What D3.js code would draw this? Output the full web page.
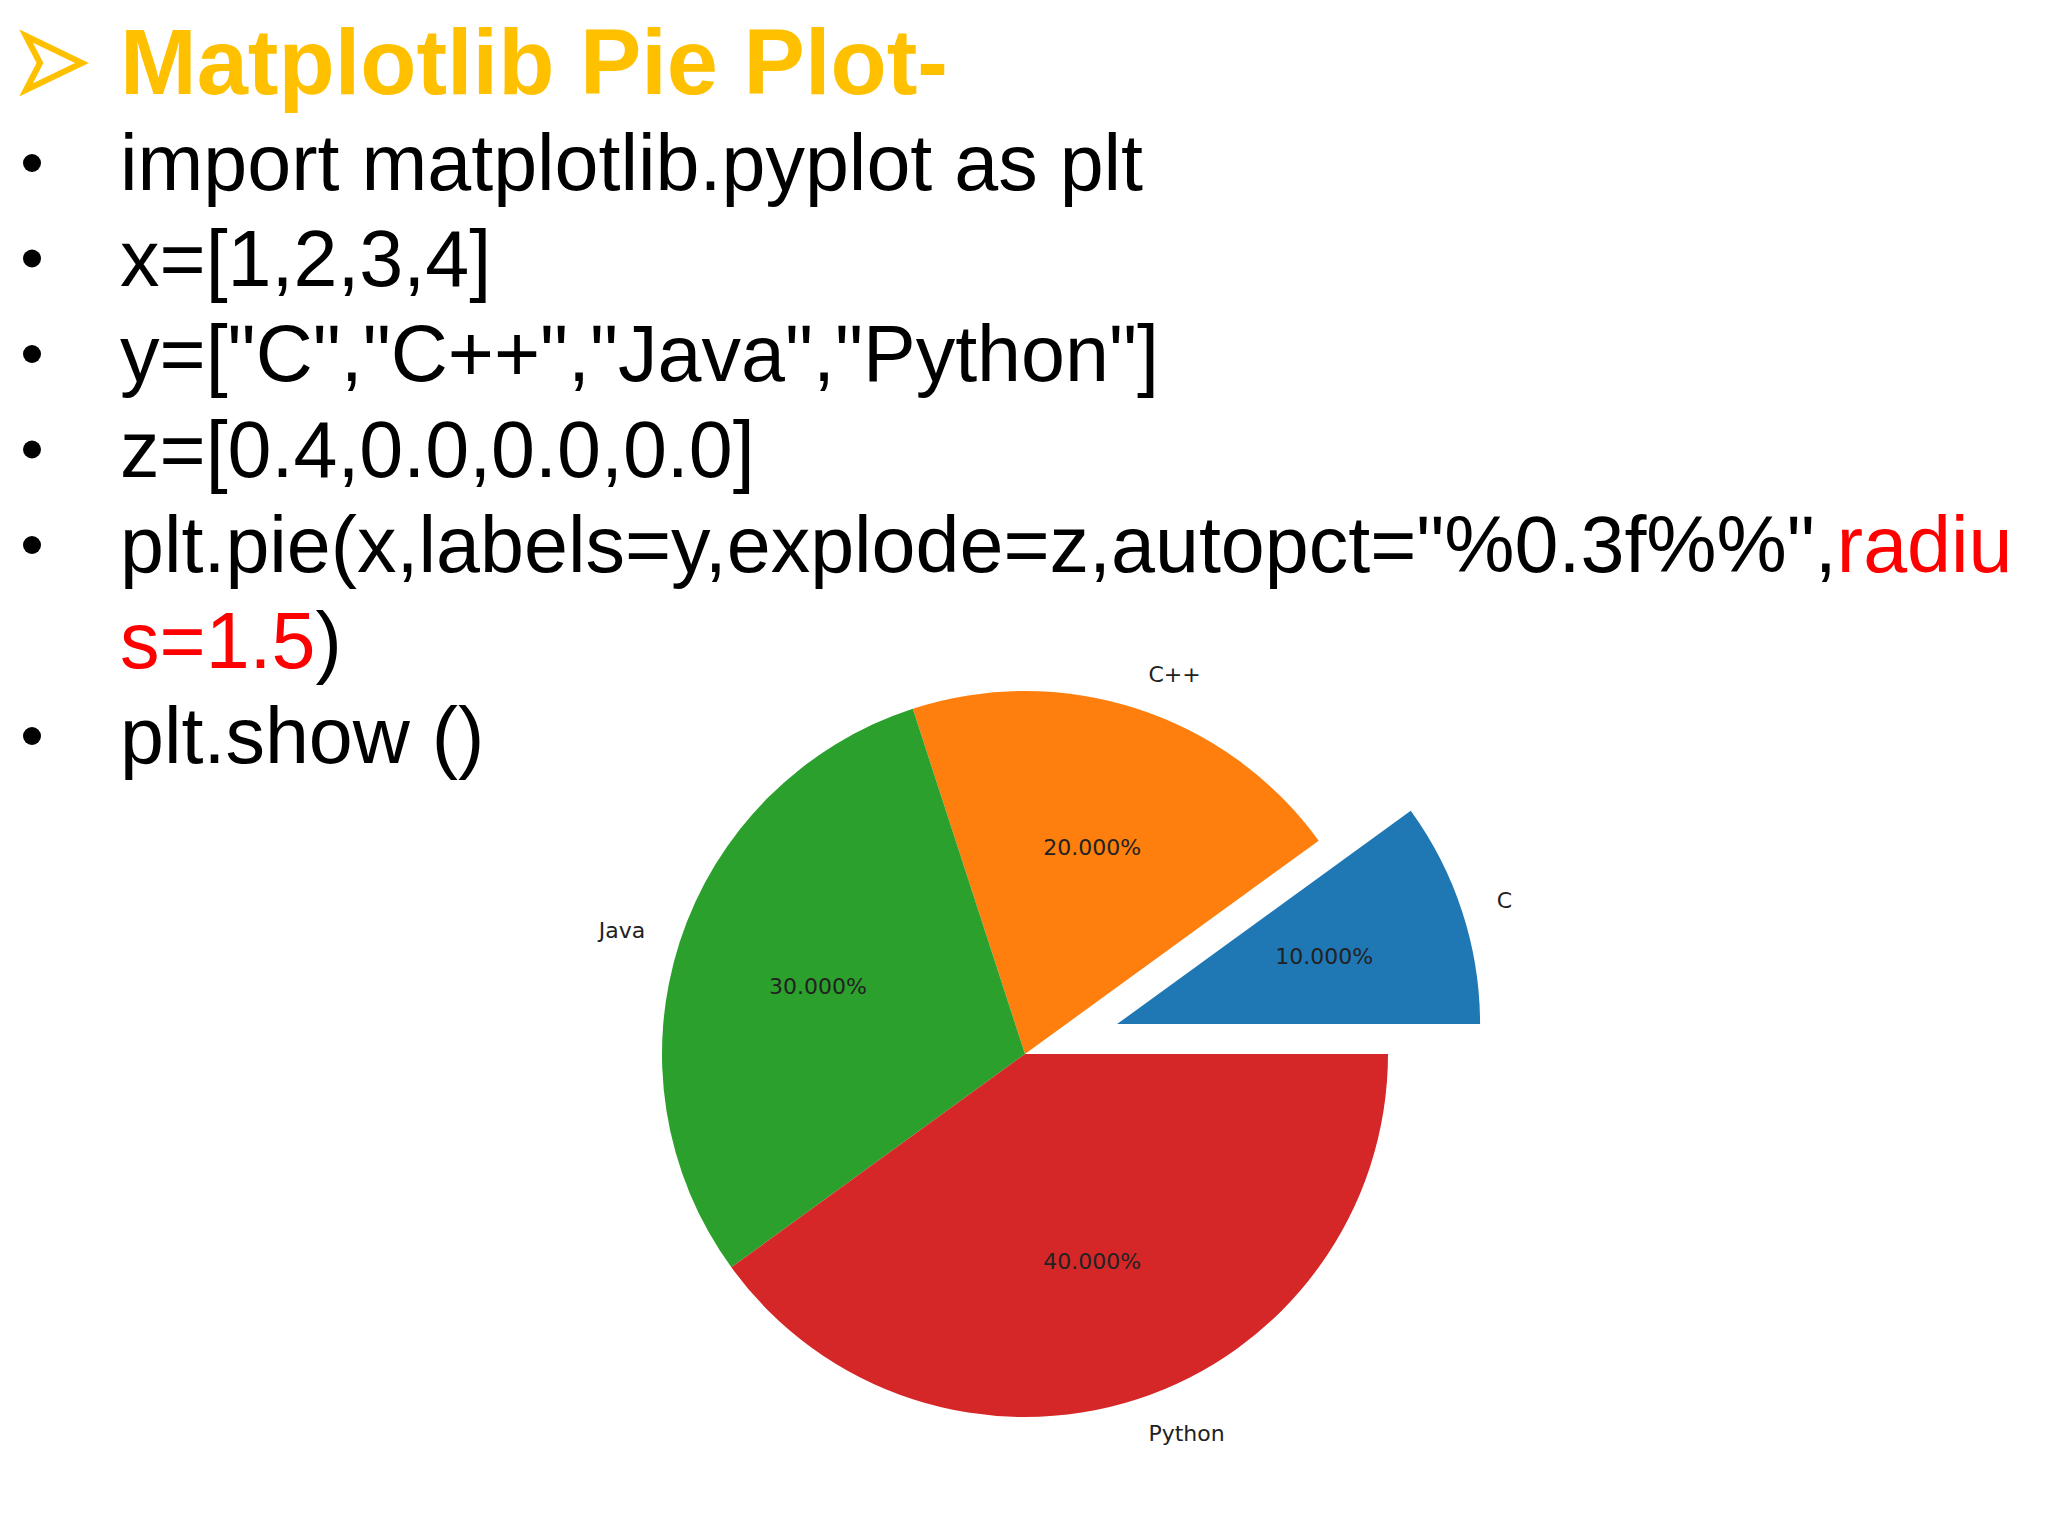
<!DOCTYPE html>
<html><head><meta charset="UTF-8">
<script src="https://d3js.org/d3.v7.min.js"></script>
<style>body{margin:0;background:#fff}</style></head>
<body><svg id="c" width="2048" height="1536"></svg>
<script>
const labels = ["C", "C++", "Java", "Python"];
const values = [1, 2, 3, 4];
const explode = [0.4, 0.0, 0.0, 0.0];
const colors = ["#1f77b4", "#ff7f0e", "#2ca02c", "#d62728"];
const radiusUnits = 1.5;
const codeLines = [
  [{t: "import matplotlib.pyplot as plt"}],
  [{t: "x=[1,2,3,4]"}],
  [{t: 'y=["C","C++","Java","Python"]'}],
  [{t: "z=[0.4,0.0,0.0,0.0]"}],
  [{t: 'plt.pie(x,labels=y,explode=z,autopct="%0.3f%%",'}, {t: "radiu", red: true}],
  [{t: "s=1.5", red: true}, {t: ")"}],
  [{t: "plt.show ()"}]
];
const bulletRows = [0, 1, 2, 3, 4, 6];

const svg = d3.select("#c");
const font = "'Liberation Sans', Arial, sans-serif";

// title
svg.append("path").attr("d", "M26,36 L82,63 L26,90 L40,63 Z").attr("fill", "none")
  .attr("stroke", "#FFC000").attr("stroke-width", 6).attr("stroke-linejoin", "miter");
svg.append("text").attr("x", 120).attr("y", 94).attr("font-family", font)
  .attr("font-weight", "bold").attr("font-size", 92).attr("fill", "#FFC000")
  .text("Matplotlib Pie Plot-");

const lineY = i => 190 + i * 95.5;
codeLines.forEach((parts, i) => {
  const t = svg.append("text").attr("x", 120).attr("y", lineY(i))
    .attr("font-family", font).attr("font-size", 79).attr("fill", "#000");
  parts.forEach(p => t.append("tspan").attr("fill", p.red ? "#FF0000" : "#000").text(p.t));
});
bulletRows.forEach(i => svg.append("circle").attr("cx", 32).attr("cy", lineY(i) - 27)
  .attr("r", 9).attr("fill", "#000"));

// pie
const cx = 1025, cy = 1054, R = 363;
const unit = R / radiusUnits;
const pie = d3.pie().sort(null).value(d => d)
  .startAngle(Math.PI / 2).endAngle(Math.PI / 2 - 2 * Math.PI);
const arcs = pie(values);
const arc = d3.arc().innerRadius(0).outerRadius(R);
const total = d3.sum(values);
const g = svg.append("g").attr("transform", `translate(${cx},${cy})`);
arcs.forEach((a, i) => {
  const mid = (a.startAngle + a.endAngle) / 2;
  const dx = Math.sin(mid), dy = -Math.cos(mid);
  const off = explode[i] * unit;
  const ox = dx * off, oy = dy * off;
  g.append("path").attr("d", arc({startAngle: a.endAngle, endAngle: a.startAngle}))
    .attr("transform", `translate(${ox},${oy})`).attr("fill", colors[i]);
  g.append("text").attr("x", ox + dx * R * 1.1).attr("y", oy + dy * R * 1.1)
    .attr("dy", "0.35em").attr("text-anchor", dx > 0.01 ? "start" : dx < -0.01 ? "end" : "middle")
    .attr("font-family", "'DejaVu Sans', sans-serif").attr("font-size", 22).attr("fill", "#222")
    .text(labels[i]);
  g.append("text").attr("x", ox + dx * R * 0.6).attr("y", oy + dy * R * 0.6)
    .attr("dy", "0.35em").attr("text-anchor", "middle")
    .attr("font-family", "'DejaVu Sans', sans-serif").attr("font-size", 22).attr("fill", "#222")
    .text((values[i] / total * 100).toFixed(3) + "%");
});
</script></body></html>
